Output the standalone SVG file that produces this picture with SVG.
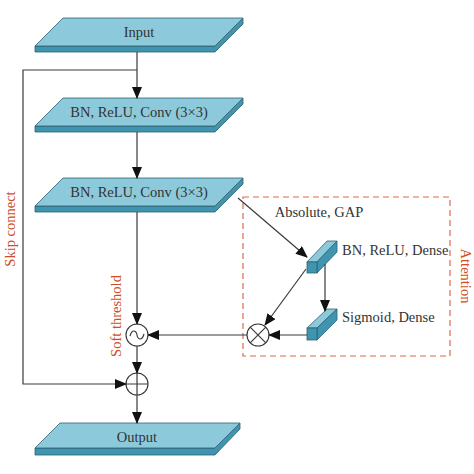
<svg xmlns="http://www.w3.org/2000/svg" width="474" height="474" viewBox="0 0 474 474">
<defs>
<style>
.top{fill:#8ccadb;stroke:#2f5f6e;stroke-width:0.8}
.side{fill:#3f95b0;stroke:#2f5f6e;stroke-width:0.8}
.lbl{font-family:"Liberation Serif",serif;font-size:14.5px;fill:#333}
.org{font-family:"Liberation Serif",serif;font-size:14.5px;fill:#cc4f28}
.ln{fill:none;stroke:#3a3a3a;stroke-width:1.2}
.op{fill:#fff;stroke:#333;stroke-width:1.1}
</style>
<marker id="ah" markerUnits="userSpaceOnUse" markerWidth="12" markerHeight="10" refX="11" refY="5" orient="auto">
<path d="M0,0 L12,5 L0,10 z" fill="#111"/>
</marker>
</defs>
<rect width="474" height="474" fill="#fff"/>

<g id="input">
<polygon class="side" points="35,46 215,46 243,18 243,24 215,52 35,52"/>
<polygon class="top" points="35,46 63,18 243,18 215,46"/>
<text class="lbl" x="139" y="37" text-anchor="middle">Input</text>
</g>
<g id="conv1">
<polygon class="side" points="35,126 215,126 243,98 243,104 215,132 35,132"/>
<polygon class="top" points="35,126 63,98 243,98 215,126"/>
<text class="lbl" x="139" y="117" text-anchor="middle">BN, ReLU, Conv (3×3)</text>
</g>
<g id="conv2">
<polygon class="side" points="35,206 215,206 243,178 243,184 215,212 35,212"/>
<polygon class="top" points="35,206 63,178 243,178 215,206"/>
<text class="lbl" x="139" y="197" text-anchor="middle">BN, ReLU, Conv (3×3)</text>
</g>
<g id="output">
<polygon class="side" points="35,448 215,448 240,423 240,429 215,455 35,455"/>
<polygon class="top" points="35,448 60,423 240,423 215,448"/>
<text class="lbl" x="137" y="442" text-anchor="middle">Output</text>
</g>

<g id="attention">
<rect x="243" y="197" width="207" height="159" fill="none" stroke="#dc6a4a" stroke-width="1.2" stroke-dasharray="6,4"/>
<text class="org" transform="translate(461,276) rotate(90)" text-anchor="middle">Attention</text>
</g>
<g id="dense1">
<polygon class="top" points="307,262 327,241 337,241 317,262"/>
<polygon class="side" points="317,262 337,241 337,252 317,273"/>
<rect class="side" x="307" y="262" width="10" height="11"/>
<text class="lbl" x="342" y="255">BN, ReLU, Dense</text>
</g>
<g id="dense2">
<polygon class="top" points="307,328 327,309 337,309 317,328"/>
<polygon class="side" points="317,328 337,309 337,320 317,340"/>
<rect class="side" x="307" y="328" width="10" height="12"/>
<text class="lbl" x="342" y="322">Sigmoid, Dense</text>
</g>
<g id="multiply">
<circle class="op" cx="258" cy="335" r="11"/>
<path class="ln" d="M250.2,327.2 L265.8,342.8 M265.8,327.2 L250.2,342.8" stroke-width="1"/>
</g>
<g id="soft">
<circle class="op" cx="137" cy="335" r="11"/>
<path class="ln" d="M130,336 C132,329 136,330 137,335 C138,340 142,341 144,334" stroke-width="1"/>
<text class="org" transform="translate(121,316) rotate(-90)" text-anchor="middle">Soft threshold</text>
</g>
<g id="add">
<circle class="op" cx="137" cy="384" r="11"/>
<path class="ln" d="M126,384 H148 M137,373 V395" stroke-width="1"/>
</g>
<g id="skiplabel">
<text class="org" transform="translate(15,229) rotate(-90)" text-anchor="middle">Skip connect</text>
</g>

<g id="connectors">
<path class="ln" d="M137,52 V98" marker-end="url(#ah)"/>
<path class="ln" d="M137,70 H23 V384 H126" marker-end="url(#ah)"/>
<path class="ln" d="M137,132 V178" marker-end="url(#ah)"/>
<path class="ln" d="M137,212 V324" marker-end="url(#ah)"/>
<path class="ln" d="M137,346 V373" marker-end="url(#ah)"/>
<path class="ln" d="M137,395 V423" marker-end="url(#ah)"/>
<path class="ln" d="M238,198 L307,257" marker-end="url(#ah)"/>
<path class="ln" d="M325,264 V311" marker-end="url(#ah)"/>
<path class="ln" d="M306,269 L265,325" marker-end="url(#ah)"/>
<path class="ln" d="M307,335 H269" marker-end="url(#ah)"/>
<path class="ln" d="M247,335 H148" marker-end="url(#ah)"/>
<text class="lbl" x="319" y="217" text-anchor="middle">Absolute, GAP</text>
</g>
</svg>
